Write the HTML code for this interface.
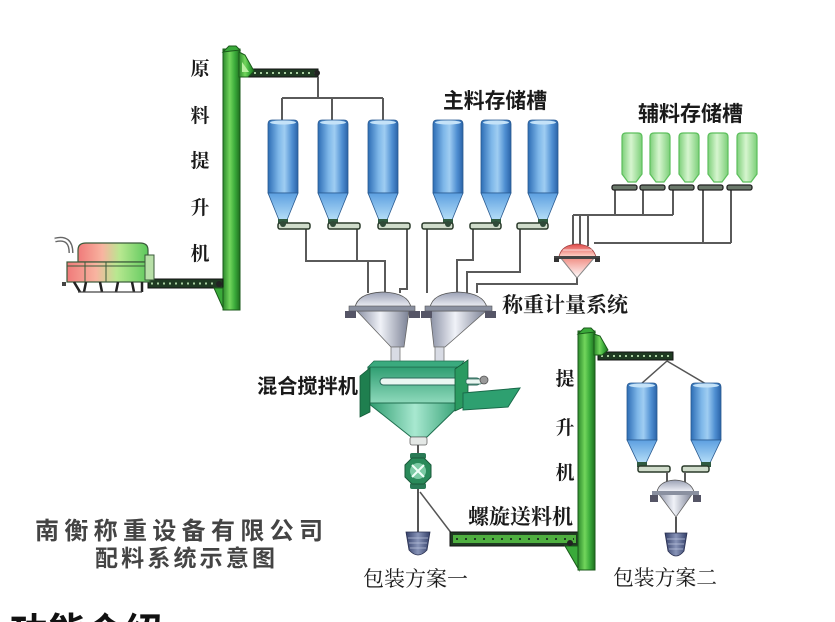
<!DOCTYPE html>
<html><head><meta charset="utf-8"><style>
html,body{margin:0;padding:0;background:#fff;width:835px;height:622px;overflow:hidden;}
svg{display:block;overflow:hidden}
text{font-family:"Liberation Sans","Noto Sans CJK SC",sans-serif;fill:#1a1a1a}
.serif{font-family:"Liberation Serif","Noto Serif CJK SC",serif}
.pipe{fill:none;stroke:#5a5a5a;stroke-width:2}
</style></head><body>
<svg width="835" height="622" viewBox="0 0 835 622" xmlns="http://www.w3.org/2000/svg">
<defs>
 <linearGradient id="gBlue" x1="0" x2="1" y1="0" y2="0">
  <stop offset="0" stop-color="#2d6db5"/>
  <stop offset="0.35" stop-color="#7db6e8"/>
  <stop offset="0.55" stop-color="#9fcdf2"/>
  <stop offset="0.8" stop-color="#4f8fd2"/>
  <stop offset="1" stop-color="#2a63a8"/>
 </linearGradient>
 <linearGradient id="gBlueC" x1="0" x2="0" y1="0" y2="1">
  <stop offset="0" stop-color="#5c9fe0"/>
  <stop offset="1" stop-color="#b5def7"/>
 </linearGradient>
 <linearGradient id="gGreen" x1="0" x2="1">
  <stop offset="0" stop-color="#7dd07a"/>
  <stop offset="0.45" stop-color="#d6f5cf"/>
  <stop offset="1" stop-color="#7ccf78"/>
 </linearGradient>
 <linearGradient id="gElev" x1="0" x2="1">
  <stop offset="0" stop-color="#2c8a2c"/>
  <stop offset="0.4" stop-color="#72d65c"/>
  <stop offset="0.7" stop-color="#3aaa3a"/>
  <stop offset="1" stop-color="#1f6f1f"/>
 </linearGradient>
 <linearGradient id="gCrush" x1="0" x2="1">
  <stop offset="0" stop-color="#f07a7a"/>
  <stop offset="0.35" stop-color="#f8b4a0"/>
  <stop offset="0.6" stop-color="#b8e890"/>
  <stop offset="1" stop-color="#5cc85c"/>
 </linearGradient>
 <linearGradient id="gSilver" x1="0" x2="1">
  <stop offset="0" stop-color="#8a90a4"/>
  <stop offset="0.45" stop-color="#f0f2f8"/>
  <stop offset="1" stop-color="#7a8094"/>
 </linearGradient>
 <linearGradient id="gSilverV" x1="0" x2="0" y1="0" y2="1">
  <stop offset="0" stop-color="#9aa0b4"/>
  <stop offset="1" stop-color="#f4f5fa"/>
 </linearGradient>
 <linearGradient id="gTeal" x1="0" x2="1">
  <stop offset="0" stop-color="#2a9a6c"/>
  <stop offset="0.5" stop-color="#a8e8d0"/>
  <stop offset="1" stop-color="#2a9a6c"/>
 </linearGradient>
 <linearGradient id="gTealV" x1="0" x2="0" y1="0" y2="1">
  <stop offset="0" stop-color="#2f9e72"/>
  <stop offset="1" stop-color="#8ed9bb"/>
 </linearGradient>
 <linearGradient id="gRed" x1="0" x2="0" y1="0" y2="1">
  <stop offset="0" stop-color="#e04848"/>
  <stop offset="1" stop-color="#ffd8cc"/>
 </linearGradient>
 <linearGradient id="gRedC" x1="0" x2="0" y1="0" y2="1">
  <stop offset="0" stop-color="#f08a80"/>
  <stop offset="1" stop-color="#ffffff"/>
 </linearGradient>
 <linearGradient id="gBag" x1="0" x2="1">
  <stop offset="0" stop-color="#34406a"/>
  <stop offset="0.5" stop-color="#8894b8"/>
  <stop offset="1" stop-color="#34406a"/>
 </linearGradient>
 <g id="silo">
  <path d="M0,4 Q0,0 4,0 H26 Q30,0 30,4 V73 H0 Z" fill="url(#gBlue)" stroke="#2a5a90" stroke-width="0.8"/>
  <ellipse cx="15" cy="2.5" rx="13" ry="2" fill="#c4e2f8"/>
  <path d="M0,73 H30 L19,100 H11 Z" fill="url(#gBlueC)" stroke="#2a5a90" stroke-width="0.8"/>
  <rect x="10" y="99" width="10" height="5" fill="#2f5a40"/>
 </g>
 <g id="rsilo">
  <path d="M0,4 Q0,0 4,0 H26 Q30,0 30,4 V57 H0 Z" fill="url(#gBlue)" stroke="#2a5a90" stroke-width="0.8"/>
  <ellipse cx="15" cy="2.5" rx="13" ry="2" fill="#c4e2f8"/>
  <path d="M0,57 H30 L19,80 H11 Z" fill="url(#gBlueC)" stroke="#2a5a90" stroke-width="0.8"/>
  <rect x="10" y="79" width="10" height="5" fill="#2f5a40"/>
 </g>
 <g id="aux">
  <path d="M0,4 Q0,0 4,0 H16 Q20,0 20,4 V41 L14,49 H6 L0,41 Z" fill="url(#gGreen)" stroke="#5cbf5c" stroke-width="1.2"/>
 </g>
</defs>

<!-- ===== Left raw material elevator ===== -->
<rect x="245" y="69" width="73" height="8" fill="#1f3a22" stroke="#111" stroke-width="1"/>
<line x1="248" y1="73" x2="315" y2="73" stroke="#a8d0a0" stroke-width="2" stroke-dasharray="2 4"/>
<circle cx="317" cy="73" r="3" fill="#222"/>
<rect x="223" y="49" width="17" height="261" fill="url(#gElev)" stroke="#1a5a1a" stroke-width="1"/>
<path d="M223,52 L229,46 L236,46 L240,50 Z" fill="#3aaa3a" stroke="#1a5a1a" stroke-width="1"/>
<path d="M239,52 L245,55 L254,71 L248,77 L239,77 Z" fill="url(#gElev)" stroke="#1a5a1a" stroke-width="1"/>
<path d="M242,62 L249,72 L242,72 Z" fill="#b8f0a0"/>
<rect x="148" y="279" width="75" height="9" fill="#1f3a22" stroke="#111" stroke-width="1"/>
<line x1="151" y1="283.5" x2="220" y2="283.5" stroke="#a8d0a0" stroke-width="2" stroke-dasharray="2 4"/>
<path d="M214,288 L223,288 L223,308 Z" fill="#3aaa3a" stroke="#1a5a1a" stroke-width="1"/>
<circle cx="219" cy="284" r="3" fill="#222"/>

<!-- crusher -->
<path d="M55,240 Q71,236 71,253" fill="none" stroke="#666" stroke-width="5"/>
<path d="M55,240 Q71,236 71,253" fill="none" stroke="#fff" stroke-width="2.2"/>
<path d="M78,262 V250 Q78,243 86,243 H140 Q148,243 148,250 V262 Z" fill="url(#gCrush)" stroke="#3a5a3a" stroke-width="1.2"/>
<rect x="67" y="262" width="83" height="20" fill="url(#gCrush)" stroke="#3a5a3a" stroke-width="1.2"/>
<line x1="67" y1="266" x2="150" y2="266" stroke="#3a5a3a" stroke-width="1"/>
<line x1="85" y1="262" x2="85" y2="282" stroke="#3a5a3a" stroke-width="1"/>
<line x1="106" y1="262" x2="106" y2="282" stroke="#3a5a3a" stroke-width="1"/>
<rect x="145" y="255" width="9" height="25" fill="#b8e0a8" stroke="#3a5a3a" stroke-width="1"/>
<path d="M74,282 L80,292 M86,282 L84,292 M100,282 L102,292 M118,282 L116,292 M132,282 L134,292 M142,282 L142,292" stroke="#222" stroke-width="2.5"/>
<line x1="78" y1="292" x2="142" y2="292" stroke="#444" stroke-width="1.2"/>
<rect x="62" y="282" width="4" height="4" fill="#444"/>

<!-- vertical labels left -->
<text class="serif" x="200" y="75" font-size="19" font-weight="bold" text-anchor="middle">原</text>
<text class="serif" x="200" y="122" font-size="19" font-weight="bold" text-anchor="middle">料</text>
<text class="serif" x="200" y="167" font-size="19" font-weight="bold" text-anchor="middle">提</text>
<text class="serif" x="200" y="214" font-size="19" font-weight="bold" text-anchor="middle">升</text>
<text class="serif" x="200" y="260" font-size="19" font-weight="bold" text-anchor="middle">机</text>

<!-- ===== Main silos ===== -->
<path class="pipe" d="M318,77 V98 M282,98 H383 M282,98 V120 M332,98 V120 M383,98 V120"/>
<use href="#silo" x="268" y="120"/>
<use href="#silo" x="318" y="120"/>
<use href="#silo" x="368" y="120"/>
<use href="#silo" x="433" y="120"/>
<use href="#silo" x="481" y="120"/>
<use href="#silo" x="528" y="120"/>
<text x="443" y="108" font-size="21" font-weight="bold" textLength="104" lengthAdjust="spacingAndGlyphs">主料存储槽</text>

<!-- pipes from main silos to weighers -->
<path class="pipe" d="M306,229 V261 H385 V293 M357,229 V261 M368,261 V293 M407,229 V289 H400 V293"/>
<path class="pipe" d="M427,229 V293 M473,229 V260 H457 V293 M520,229 V272 H467 V293 M577,277 V284 H477 V293"/>
<!-- small conveyors main -->
<g fill="#d0dccb" stroke="#2a3a2a" stroke-width="1.5">
 <rect x="278" y="223" width="32" height="6" rx="2"/>
 <rect x="328" y="223" width="32" height="6" rx="2"/>
 <rect x="378" y="223" width="32" height="6" rx="2"/>
 <rect x="422" y="223" width="31" height="6" rx="2"/>
 <rect x="470" y="223" width="31" height="6" rx="2"/>
 <rect x="517" y="223" width="31" height="6" rx="2"/>
</g>
<g fill="#2f4a38">
 <circle cx="283" cy="224" r="3"/><circle cx="333" cy="224" r="3"/><circle cx="383" cy="224" r="3"/>
 <circle cx="448" cy="224" r="3"/><circle cx="496" cy="224" r="3"/><circle cx="543" cy="224" r="3"/>
</g>

<!-- ===== Aux silos ===== -->
<text x="638" y="121" font-size="21" font-weight="bold" textLength="105" lengthAdjust="spacingAndGlyphs">辅料存储槽</text>
<use href="#aux" x="622" y="133"/>
<use href="#aux" x="650" y="133"/>
<use href="#aux" x="679" y="133"/>
<use href="#aux" x="708" y="133"/>
<use href="#aux" x="737" y="133"/>
<path class="pipe" d="M615,190 V215 M643,190 V215 M673,190 V215 M573,215 H673 M573,215 V246 M580,215 V246 M588,215 V246 M703,190 V243 M731,190 V243 M594,243 H731"/>
<g fill="#6a786a" stroke="#222" stroke-width="1.3">
 <rect x="612" y="185" width="25" height="5" rx="2"/>
 <rect x="640" y="185" width="25" height="5" rx="2"/>
 <rect x="669" y="185" width="25" height="5" rx="2"/>
 <rect x="698" y="185" width="25" height="5" rx="2"/>
 <rect x="727" y="185" width="25" height="5" rx="2"/>
</g>
<!-- aux weigher red -->
<path d="M560,257 L577,278 L595,257 Z" fill="url(#gRedC)" stroke="#888" stroke-width="1"/>
<path d="M559,257 Q561,245 577,244 Q593,245 596,257 Z" fill="url(#gRed)" stroke="#a04040" stroke-width="0.8"/>
<line x1="563" y1="250" x2="592" y2="250" stroke="#fff" stroke-width="1" opacity="0.7"/>
<rect x="554" y="256" width="46" height="3" fill="#444"/>
<rect x="554" y="258" width="5" height="4" fill="#333"/>
<rect x="595" y="258" width="5" height="4" fill="#333"/>

<text class="serif" x="502" y="312" font-size="21" font-weight="bold" textLength="126" lengthAdjust="spacingAndGlyphs">称重计量系统</text>

<!-- ===== Weighers (silver) ===== -->
<path d="M357,311 H409 L404,347 H391 Z" fill="url(#gSilver)" stroke="#666" stroke-width="0.8"/>
<path d="M355,308 Q357,293 383,292 Q409,293 411,308 Z" fill="url(#gSilverV)" stroke="#555" stroke-width="0.8"/>
<rect x="349" y="306" width="66" height="5" fill="#8a90a0" stroke="#555" stroke-width="0.6"/>
<path d="M345,311 H356 V318 H345 Z M409,311 H420 V318 H409 Z" fill="#556" />
<rect x="391" y="347" width="9" height="17" fill="#d8dbe4" stroke="#777" stroke-width="0.8"/>

<path d="M430,311 H486 L445,347 H434 Z" fill="url(#gSilver)" stroke="#666" stroke-width="0.8"/>
<path d="M430,308 Q432,293 458,292 Q484,293 487,308 Z" fill="url(#gSilverV)" stroke="#555" stroke-width="0.8"/>
<rect x="425" y="306" width="67" height="5" fill="#8a90a0" stroke="#555" stroke-width="0.6"/>
<path d="M421,311 H432 V318 H421 Z M485,311 H496 V318 H485 Z" fill="#556"/>
<rect x="435" y="347" width="9" height="17" fill="#d8dbe4" stroke="#777" stroke-width="0.8"/>

<!-- ===== Mixer ===== -->
<text x="257" y="393" font-size="20" font-weight="bold" textLength="101" lengthAdjust="spacingAndGlyphs">混合搅拌机</text>
<rect x="389" y="363" width="14" height="5" rx="2" fill="#e8f0ec" stroke="#2a6a5a" stroke-width="0.8"/>
<rect x="433" y="363" width="14" height="5" rx="2" fill="#e8f0ec" stroke="#2a6a5a" stroke-width="0.8"/>
<path d="M368,403 H462 L427,437 H411 Z" fill="url(#gTeal)" stroke="#1f6f4f" stroke-width="1"/>
<rect x="368" y="367" width="92" height="36" fill="url(#gTealV)" stroke="#1f6f4f" stroke-width="1"/>
<path d="M368,367 L374,361 H464 L460,367 Z" fill="#3aaa7e" stroke="#1f6f4f" stroke-width="0.8"/>
<path d="M360,376 L370,368 V412 L360,417 Z" fill="#1f7f4f" stroke="#145a38" stroke-width="0.8"/>
<rect x="380" y="378" width="100" height="7" rx="3.5" fill="#eaf6f1" stroke="#2a6a5a" stroke-width="1"/>
<path d="M455,369 L468,360 V405 L455,411 Z" fill="#2a9a60" stroke="#145a38" stroke-width="0.8"/>
<path d="M463,393 L520,388 L508,407 L463,410 Z" fill="#2ea070" stroke="#1a6a4a" stroke-width="1"/>
<rect x="466" y="379" width="16" height="5" rx="2" fill="#eaf6f1" stroke="#2a6a5a" stroke-width="0.8"/>
<circle cx="484" cy="380" r="4" fill="#999" stroke="#555" stroke-width="0.8"/>
<rect x="410" y="437" width="17" height="8" rx="2" fill="#e4e8e6" stroke="#666" stroke-width="0.8"/>
<line x1="418" y1="445" x2="418" y2="454" stroke="#555" stroke-width="2"/>

<!-- rotary valve -->
<rect x="410" y="453" width="16" height="6" rx="2" fill="#2a7a56"/>
<rect x="410" y="483" width="16" height="6" rx="2" fill="#2a7a56"/>
<path d="M412,458 H424 L431,465 V477 L424,484 H412 L405,477 V465 Z" fill="#2a8a5a" stroke="#1a5a3a" stroke-width="1"/>
<circle cx="418" cy="471" r="8" fill="#7ccaa4"/>
<path d="M412,465 L424,477 M424,465 L412,477" stroke="#f0fff8" stroke-width="2"/>
<line x1="418" y1="489" x2="418" y2="532" stroke="#555" stroke-width="2"/>
<line x1="420" y1="492" x2="452" y2="534" stroke="#555" stroke-width="1.5"/>
<!-- bag 1 -->
<path d="M406,532 H430 L427,550 Q418,560 409,550 Z" fill="url(#gBag)" stroke="#2a3050" stroke-width="0.8"/>
<path d="M408,538 H428 M409,543 H427 M410,548 H426" stroke="#c0c8e0" stroke-width="1" opacity="0.7"/>
<text class="serif" x="363" y="586" font-size="21" textLength="105" lengthAdjust="spacingAndGlyphs">包装方案一</text>

<!-- ===== Screw conveyor + right elevator ===== -->
<text class="serif" x="468" y="524" font-size="21" font-weight="bold" textLength="105" lengthAdjust="spacingAndGlyphs">螺旋送料机</text>
<rect x="450" y="532" width="129" height="14" fill="#1f3a22" stroke="#111" stroke-width="1"/>
<rect x="453" y="535" width="123" height="8" fill="#4fb040"/>
<line x1="456" y1="539" x2="574" y2="539" stroke="#1f3a22" stroke-width="2" stroke-dasharray="2 7"/>
<path d="M565,546 L579,546 L579,570 Z" fill="#3aaa3a" stroke="#1a5a1a" stroke-width="1"/>
<circle cx="570" cy="543" r="3" fill="#222"/>
<rect x="598" y="352" width="75" height="8" fill="#1f3a22" stroke="#111" stroke-width="1"/>
<line x1="601" y1="356" x2="670" y2="356" stroke="#a8d0a0" stroke-width="2" stroke-dasharray="2 4"/>
<rect x="578" y="331" width="17" height="239" fill="url(#gElev)" stroke="#1a5a1a" stroke-width="1"/>
<path d="M578,334 L584,328 L591,328 L595,332 Z" fill="#3aaa3a" stroke="#1a5a1a" stroke-width="1"/>
<path d="M594,334 L600,336 L608,350 L602,355 L594,355 Z" fill="url(#gElev)" stroke="#1a5a1a" stroke-width="1"/>
<text class="serif" x="565" y="385" font-size="19" font-weight="bold" text-anchor="middle">提</text>
<text class="serif" x="565" y="434" font-size="19" font-weight="bold" text-anchor="middle">升</text>
<text class="serif" x="565" y="479" font-size="19" font-weight="bold" text-anchor="middle">机</text>

<!-- right silos -->
<path d="M667,361 L641,384 M667,361 L706,384" stroke="#555" stroke-width="1.5" fill="none"/>
<use href="#rsilo" x="627" y="383"/>
<use href="#rsilo" x="691" y="383"/>
<g fill="#d0dccb" stroke="#2a3a2a" stroke-width="1.5">
 <rect x="638" y="466" width="32" height="6" rx="2"/>
 <rect x="682" y="466" width="27" height="6" rx="2"/>
</g>
<path class="pipe" d="M667,472 V482 M685,472 V482"/>
<path d="M658,493 H693 L676,517 Z" fill="url(#gSilver)" stroke="#666" stroke-width="0.8"/>
<path d="M657,492 Q659,481 675,480 Q691,481 694,492 Z" fill="url(#gSilverV)" stroke="#555" stroke-width="0.8"/>
<rect x="652" y="491" width="47" height="4" fill="#8a90a0"/>
<path d="M650,495 H658 V502 H650 Z M693,495 H701 V502 H693 Z" fill="#556"/>
<line x1="676" y1="517" x2="676" y2="533" stroke="#555" stroke-width="2"/>
<path d="M665,533 H687 L684,551 Q676,561 668,551 Z" fill="url(#gBag)" stroke="#2a3050" stroke-width="0.8"/>
<path d="M667,539 H685 M668,544 H684 M669,549 H683" stroke="#c0c8e0" stroke-width="1" opacity="0.7"/>
<text class="serif" x="613" y="585" font-size="21" textLength="104" lengthAdjust="spacingAndGlyphs">包装方案二</text>

<!-- ===== Bottom-left captions ===== -->
<text x="35" y="539" font-size="24" font-weight="bold" style="fill:#444" textLength="288" lengthAdjust="spacing">南衡称重设备有限公司</text>
<text x="95" y="566" font-size="23" font-weight="bold" style="fill:#444" textLength="180" lengthAdjust="spacing">配料系统示意图</text>
<text x="10" y="645" font-size="38" font-weight="bold" style="fill:#111" textLength="152" lengthAdjust="spacing">功能介绍</text>
</svg>
</body></html>
